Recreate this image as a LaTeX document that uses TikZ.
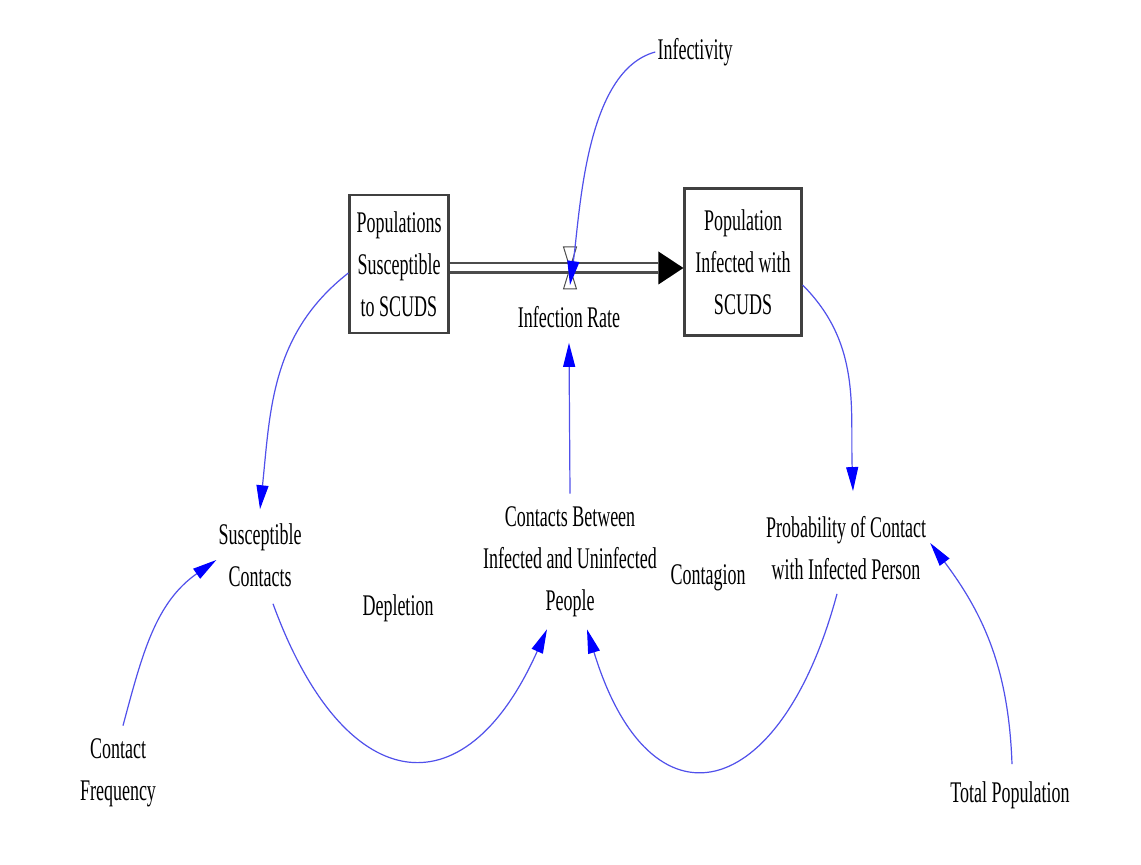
\documentclass[tikz,border=0pt]{standalone}
\usepackage{fontspec}
\setmainfont[FakeStretch=0.6]{Liberation Serif}
\usetikzlibrary{arrows.meta,positioning}
\definecolor{linkblue}{RGB}{80,80,235}

\begin{document}
\begin{tikzpicture}[x=1pt,y=1pt,font=\fontsize{30}{42}\selectfont,
stock/.style={draw=black!75,line width=2.2pt,minimum width=99pt,minimum height=138pt,align=center,inner sep=2pt,text=black},
var/.style={align=center,inner sep=2pt,text=black},
link/.style={-{Triangle[length=24pt,width=12pt,color=blue]},draw=linkblue,line width=1.2pt},
pipe/.style={draw=black!70,line width=2.8pt,double=white,double distance=7pt}]
\useasboundingbox[fill=white] (0,0) rectangle (1141,865);
\node[stock] (popS) at (399,601) {Populations\\Susceptible\\to SCUDS};
\node[stock,minimum width=117pt,minimum height=147pt] (popI) at (743,603) {Population\\Infected with\\SCUDS};
\coordinate (valve) at (570,597);
\node[var] (rate) at (569,548) {Infection Rate};
\node[var] (infect) at (695,813) {Infectivity};
\node[var] (susc) at (260,310) {Susceptible\\Contacts};
\node[var] (contacts) at (570,303) {Contacts Between\\Infected and Uninfected\\People};
\node[var] (prob) at (846,317) {Probability of Contact\\with Infected Person};
\node[var] (depl) at (398,257) {Depletion};
\node[var] (cont) at (708,287) {Contagion};
\node[var] (freq) at (118,92) {Contact\\Frequency};
\node[var] (total) at (1010,70) {Total Population};
\draw[pipe,shorten >=25pt] (popS.east|-valve) -- (valve-|popI.west);
\fill[black] (valve-|popI.west) -- ++(-25,16.5) -- ++(0,-33) -- cycle;
\draw[draw=black!70,fill=white,line width=1pt] (valve) ++(-6.5,21) -- ++(13,0) -- ++(-13,-42) -- ++(13,0) -- cycle;
\draw[link] (infect.west) to[out=195,in=82,looseness=0.75] ([yshift=-17]valve);
\draw[link] ([yshift=-9]popS.west) to[out=218,in=84] ([yshift=12]susc.north);
\draw[link] ([xshift=5,yshift=11]freq.north) to[out=75,in=215] ([yshift=-5]susc.west);
\draw[link] ([xshift=13,yshift=-15]susc.south) to[out=-70,in=246,looseness=1.9] ([xshift=-23,yshift=-10]contacts.south);
\draw[link] ([yshift=11]contacts.north) -- ([yshift=-13]rate.south);
\draw[link] ([yshift=-23]popI.east) to[out=-45,in=92] ([xshift=7,yshift=23]prob.north);
\draw[link] ([xshift=-9,yshift=-12]prob.south) to[out=-105,in=-73,looseness=2.2] ([xshift=17,yshift=-10]contacts.south);
\draw[link] ([xshift=2,yshift=15]total.north) to[out=92,in=-53] ([xshift=2,yshift=5]prob.east);
\end{tikzpicture}
\end{document}
